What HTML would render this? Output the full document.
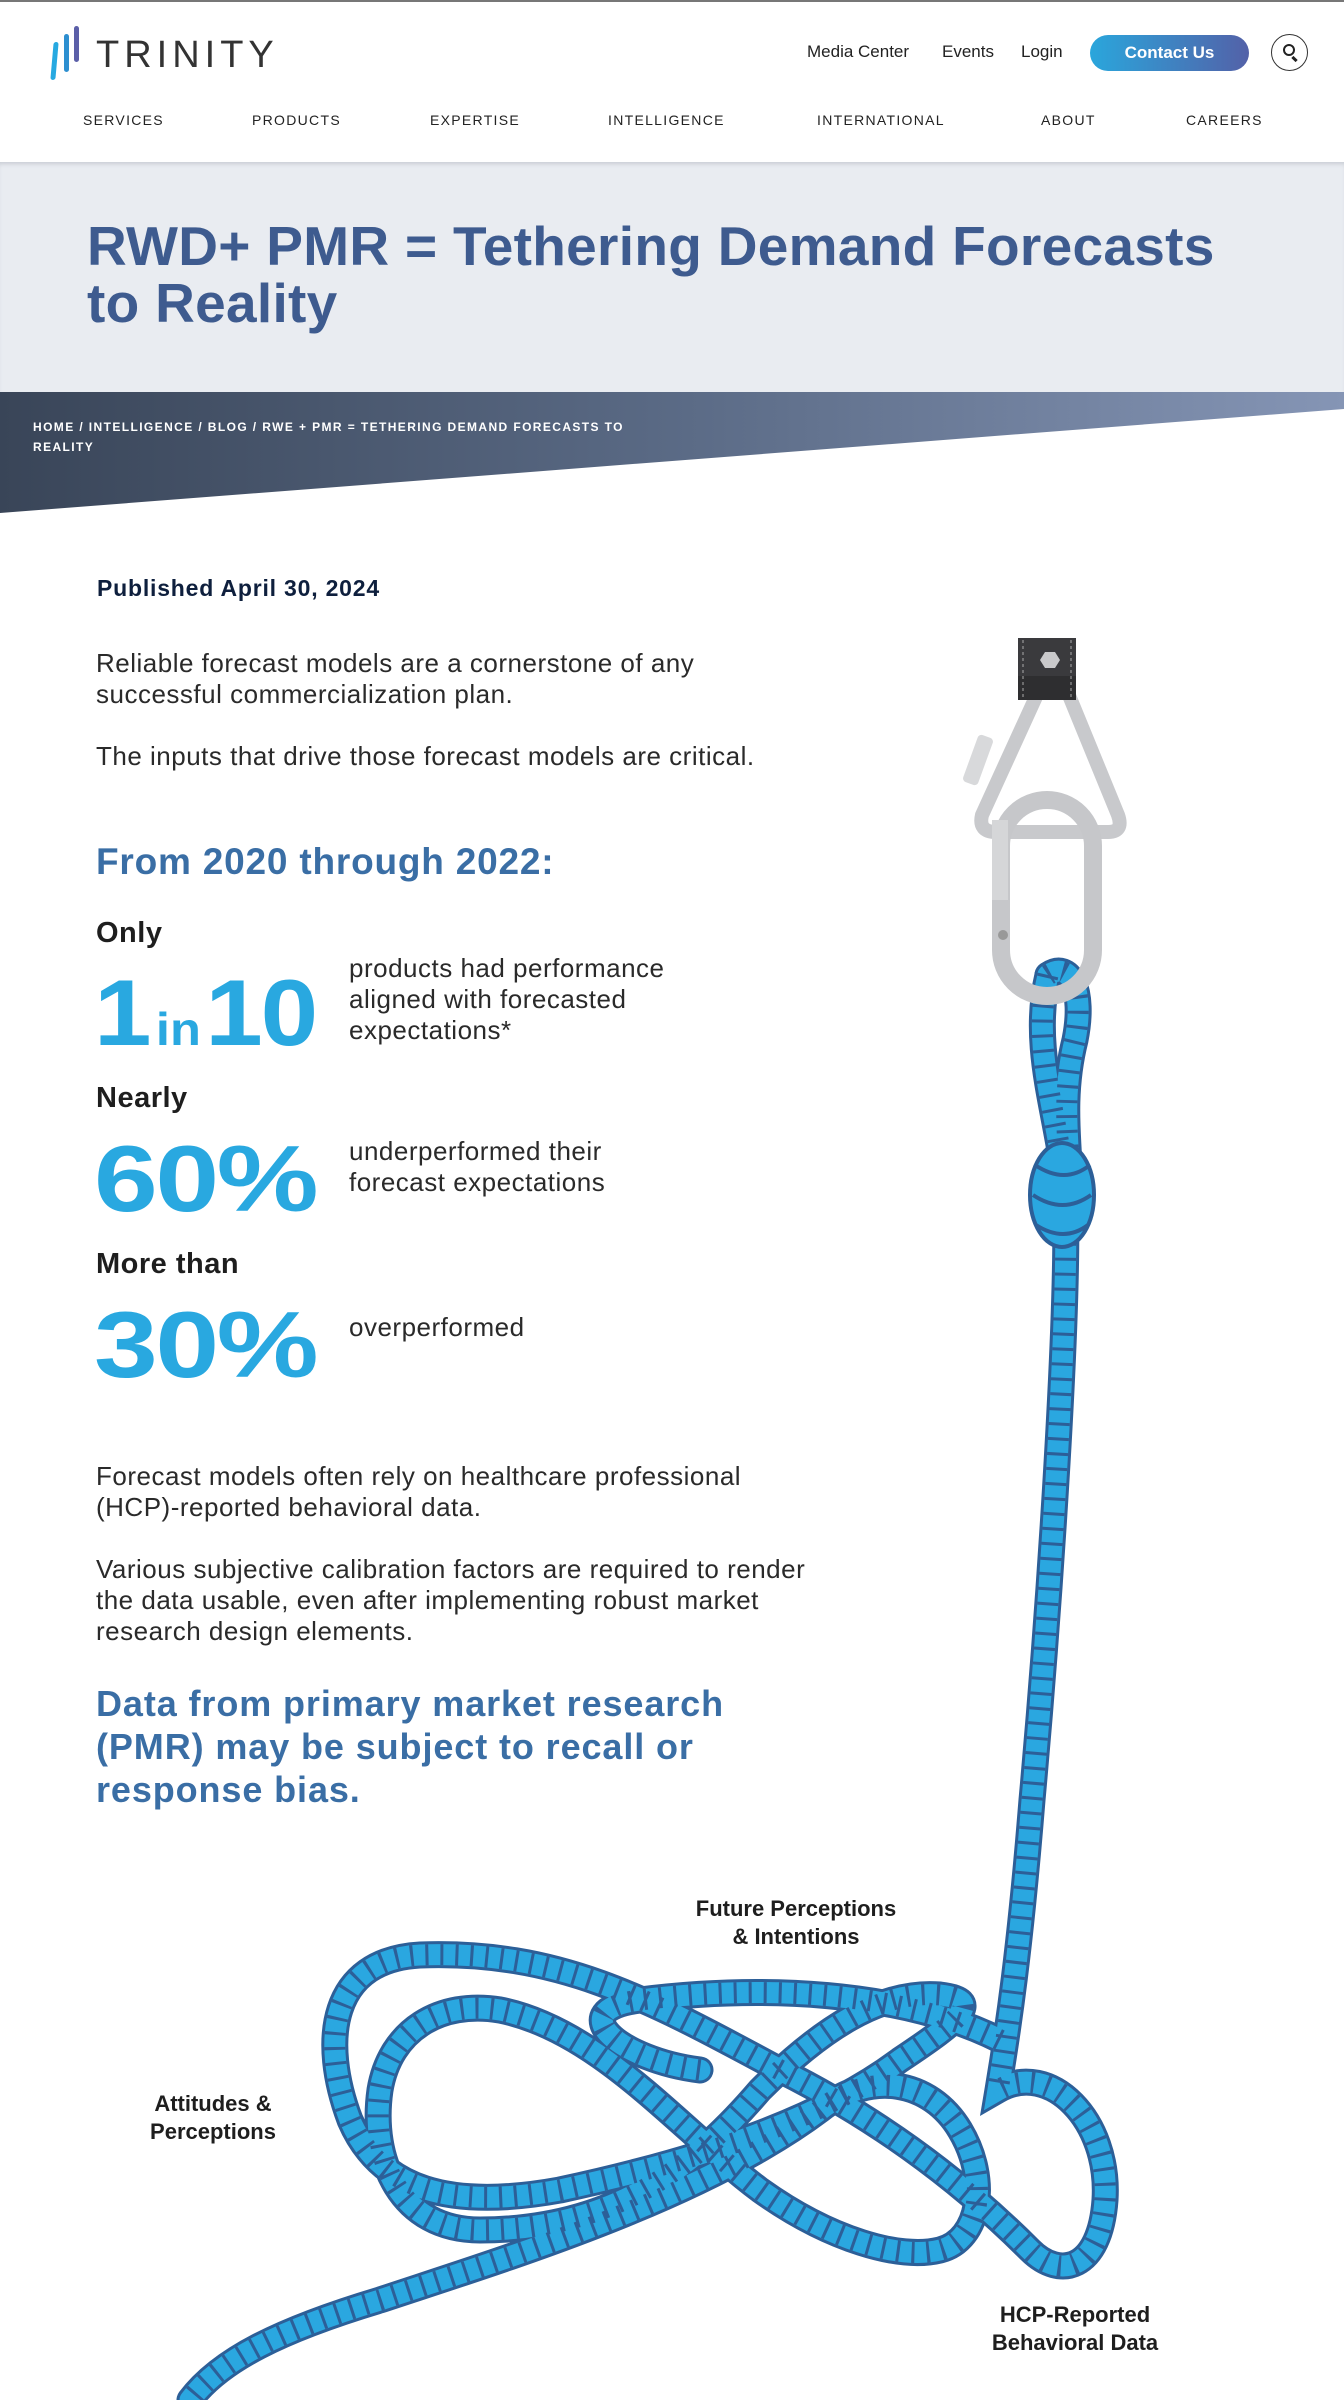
<!DOCTYPE html>
<html><head><meta charset="utf-8">
<style>
*{margin:0;padding:0;box-sizing:border-box}
body{width:1344px;height:2400px;overflow:hidden;background:#fff;font-family:"Liberation Sans",sans-serif;position:relative;color:#222}
.a{position:absolute;white-space:nowrap}
.nav{position:absolute;top:112px;font-size:14px;letter-spacing:1.3px;color:#222}
.p{font-size:26px;color:#2a2a2a;line-height:31px;letter-spacing:0.5px}
.lbl{font-size:29px;font-weight:bold;color:#1e1e1e;letter-spacing:0.5px}
.big{font-weight:bold;color:#29a8e0;font-size:94px;line-height:1;letter-spacing:-2px;transform:scaleX(1.22);transform-origin:0 0}
.rl{font-size:22px;color:#1e1e1e;text-align:center;line-height:28px;font-weight:bold}
</style></head><body>
<div style="position:absolute;top:0;left:0;width:1344px;height:2px;background:#777"></div>
<div class="a" style="left:52px;top:42px;width:5px;height:38px;background:#27a9e1;border-radius:3px;transform:skewX(-5deg)"></div>
<div class="a" style="left:64px;top:34px;width:5px;height:38px;background:#2d8fd0;border-radius:3px"></div>
<div class="a" style="left:74px;top:26px;width:5px;height:36px;background:#5b5fa8;border-radius:3px"></div>
<div class="a" style="left:96px;top:34px;font-size:38px;letter-spacing:5px;color:#333">TRINITY</div>
<div class="a" style="left:807px;top:42px;font-size:17px;color:#222">Media Center</div>
<div class="a" style="left:942px;top:42px;font-size:17px;color:#222">Events</div>
<div class="a" style="left:1021px;top:42px;font-size:17px;color:#222">Login</div>
<div class="a" style="left:1090px;top:35px;width:159px;height:36px;border-radius:18px;background:linear-gradient(90deg,#2aa6dc,#5361a8);color:#fff;font-size:17px;font-weight:bold;text-align:center;line-height:36px">Contact Us</div>
<div class="a" style="left:1271px;top:34px;width:37px;height:37px;border:1.5px solid #333;border-radius:50%"></div>
<div class="a" style="left:1283px;top:44px;width:12px;height:12px;border:2.5px solid #222;border-radius:50%"></div>
<div class="a" style="left:1293px;top:56px;width:3px;height:6px;background:#222;transform:rotate(-45deg)"></div>
<div class="nav" style="left:83px">SERVICES</div>
<div class="nav" style="left:252px">PRODUCTS</div>
<div class="nav" style="left:430px">EXPERTISE</div>
<div class="nav" style="left:608px">INTELLIGENCE</div>
<div class="nav" style="left:817px">INTERNATIONAL</div>
<div class="nav" style="left:1041px">ABOUT</div>
<div class="nav" style="left:1186px">CAREERS</div>
<div class="a" style="left:0;top:162px;width:1344px;height:230px;background:#e9ecf1;box-shadow:inset 0 4px 4px -2px #c8ccd4"></div>
<div class="a" style="left:87px;top:218px;font-size:55px;font-weight:bold;color:#3e5b8f;line-height:57px;white-space:normal;width:1250px;letter-spacing:0.3px">RWD+ PMR = Tethering Demand Forecasts<br>to Reality</div>
<svg class="a" style="left:0;top:392px" width="1344" height="125"><defs><linearGradient id="g" x1="0" x2="1"><stop offset="0" stop-color="#394558"/><stop offset="0.5" stop-color="#5a6a85"/><stop offset="1" stop-color="#8595b5"/></linearGradient></defs><polygon points="0,0 1344,0 1344,17 0,121" fill="url(#g)"/></svg>
<div class="a" style="left:33px;top:417px;font-size:12px;font-weight:bold;color:#fff;letter-spacing:1.4px;line-height:20px">HOME / INTELLIGENCE / BLOG / RWE + PMR = TETHERING DEMAND FORECASTS TO<br>REALITY</div>
<div class="a" style="left:97px;top:575px;font-size:23px;font-weight:bold;color:#0e1f3d;letter-spacing:0.8px">Published April 30, 2024</div>
<div class="a p" style="left:96px;top:648px">Reliable forecast models are a cornerstone of any<br>successful commercialization plan.</div>
<div class="a p" style="left:96px;top:741px">The inputs that drive those forecast models are critical.</div>
<div class="a" style="left:96px;top:841px;font-size:37px;font-weight:bold;color:#3a6ea5;letter-spacing:0.8px">From 2020 through 2022:</div>
<div class="a lbl" style="left:96px;top:917px">Only</div>
<div class="a big" style="left:94px;top:966px;transform:scaleX(1.1)">1<span style="font-size:46px;letter-spacing:0;margin:0 4px 0 6px">in</span>10</div>
<div class="a p" style="left:349px;top:953px">products had performance<br>aligned with forecasted<br>expectations*</div>
<div class="a lbl" style="left:96px;top:1082px">Nearly</div>
<div class="a big" style="left:94px;top:1132px">60%</div>
<div class="a p" style="left:349px;top:1136px">underperformed their<br>forecast expectations</div>
<div class="a lbl" style="left:96px;top:1248px">More than</div>
<div class="a big" style="left:94px;top:1298px">30%</div>
<div class="a p" style="left:349px;top:1312px">overperformed</div>
<div class="a p" style="left:96px;top:1461px">Forecast models often rely on healthcare professional<br>(HCP)-reported behavioral data.</div>
<div class="a p" style="left:96px;top:1554px">Various subjective calibration factors are required to render<br>the data usable, even after implementing robust market<br>research design elements.</div>
<div class="a" style="left:96px;top:1682px;font-size:36px;font-weight:bold;color:#3a6ea5;line-height:43px;letter-spacing:0.9px">Data from primary market research<br>(PMR) may be subject to recall or<br>response bias.</div>
<svg class="a" style="left:0;top:0" width="1344" height="2400">
<defs>
<g id="r">
<path d="M1048,975 C1030,1050 1060,1120 1065,1190 C1070,1300 1050,1600 1032,1800 C1020,1950 1008,2030 998,2090 C1050,2060 1110,2120 1105,2200 C1100,2270 1060,2280 1030,2250 C980,2200 900,2130 780,2070 C650,2000 560,1950 420,1955 C330,1960 320,2040 350,2120 C380,2190 450,2210 560,2190 C700,2160 820,2120 900,2060 C960,2020 985,2000 940,1995 C880,1990 820,2030 760,2090 C700,2160 620,2230 480,2230 C400,2230 370,2160 380,2090 C390,2030 440,2000 500,2010 C600,2030 680,2130 760,2190 C830,2240 900,2260 940,2250 C980,2240 990,2180 960,2130 C930,2080 870,2070 820,2110 C700,2200 500,2260 380,2300 C280,2330 220,2360 190,2400"/>
<path d="M1048,975 C1070,960 1085,990 1075,1040 C1060,1100 1070,1150 1070,1190"/>
<path d="M1000,2040 C900,1990 760,1985 640,2000 C560,2010 620,2060 700,2070"/>
</g>
</defs>
<g fill="none">
<use href="#r" stroke="#2c5f98" stroke-width="27" stroke-linecap="round"/>
<use href="#r" stroke="#2aa7e0" stroke-width="21" stroke-linecap="round"/>
<use href="#r" stroke="#2c5f98" stroke-width="21" stroke-dasharray="3 12" stroke-linecap="butt"/>
</g>
<ellipse cx="1062" cy="1195" rx="32" ry="52" fill="#2aa7e0" stroke="#2c5f98" stroke-width="4"/>
<path d="M1035,1165 q30,20 55,0 M1033,1195 q30,20 58,0 M1036,1225 q28,18 52,0" fill="none" stroke="#2c5f98" stroke-width="4"/>
<path d="M1040,688 L982,815 Q978,832 996,832 L1108,832 Q1124,832 1118,815 L1066,688" fill="none" stroke="#c8c9cc" stroke-width="14" stroke-linejoin="round"/>
<rect x="970" y="735" width="16" height="50" rx="4" fill="#d8d9db" transform="rotate(20 978 760)"/>
<rect x="1001" y="800" width="92" height="196" rx="46" fill="none" stroke="#c6c7ca" stroke-width="18"/>
<rect x="992" y="820" width="16" height="80" fill="#d5d6d8"/>
<circle cx="1003" cy="935" r="5" fill="#999"/>
<rect x="1018" y="638" width="58" height="62" fill="#3a3a3d"/>
<rect x="1018" y="676" width="58" height="24" fill="#2e2e30"/>
<line x1="1023" y1="640" x2="1023" y2="698" stroke="#aaa" stroke-dasharray="3 3"/>
<line x1="1071" y1="640" x2="1071" y2="698" stroke="#aaa" stroke-dasharray="3 3"/>
<polygon points="1040,660 1045,652 1055,652 1060,660 1055,668 1045,668" fill="#c9c9cb"/>
</svg>
<div class="a rl" style="left:646px;top:1895px;width:300px">Future Perceptions<br>&amp; Intentions</div>
<div class="a rl" style="left:93px;top:2090px;width:240px">Attitudes &amp;<br>Perceptions</div>
<div class="a rl" style="left:935px;top:2301px;width:280px">HCP-Reported<br>Behavioral Data</div>
</body></html>
